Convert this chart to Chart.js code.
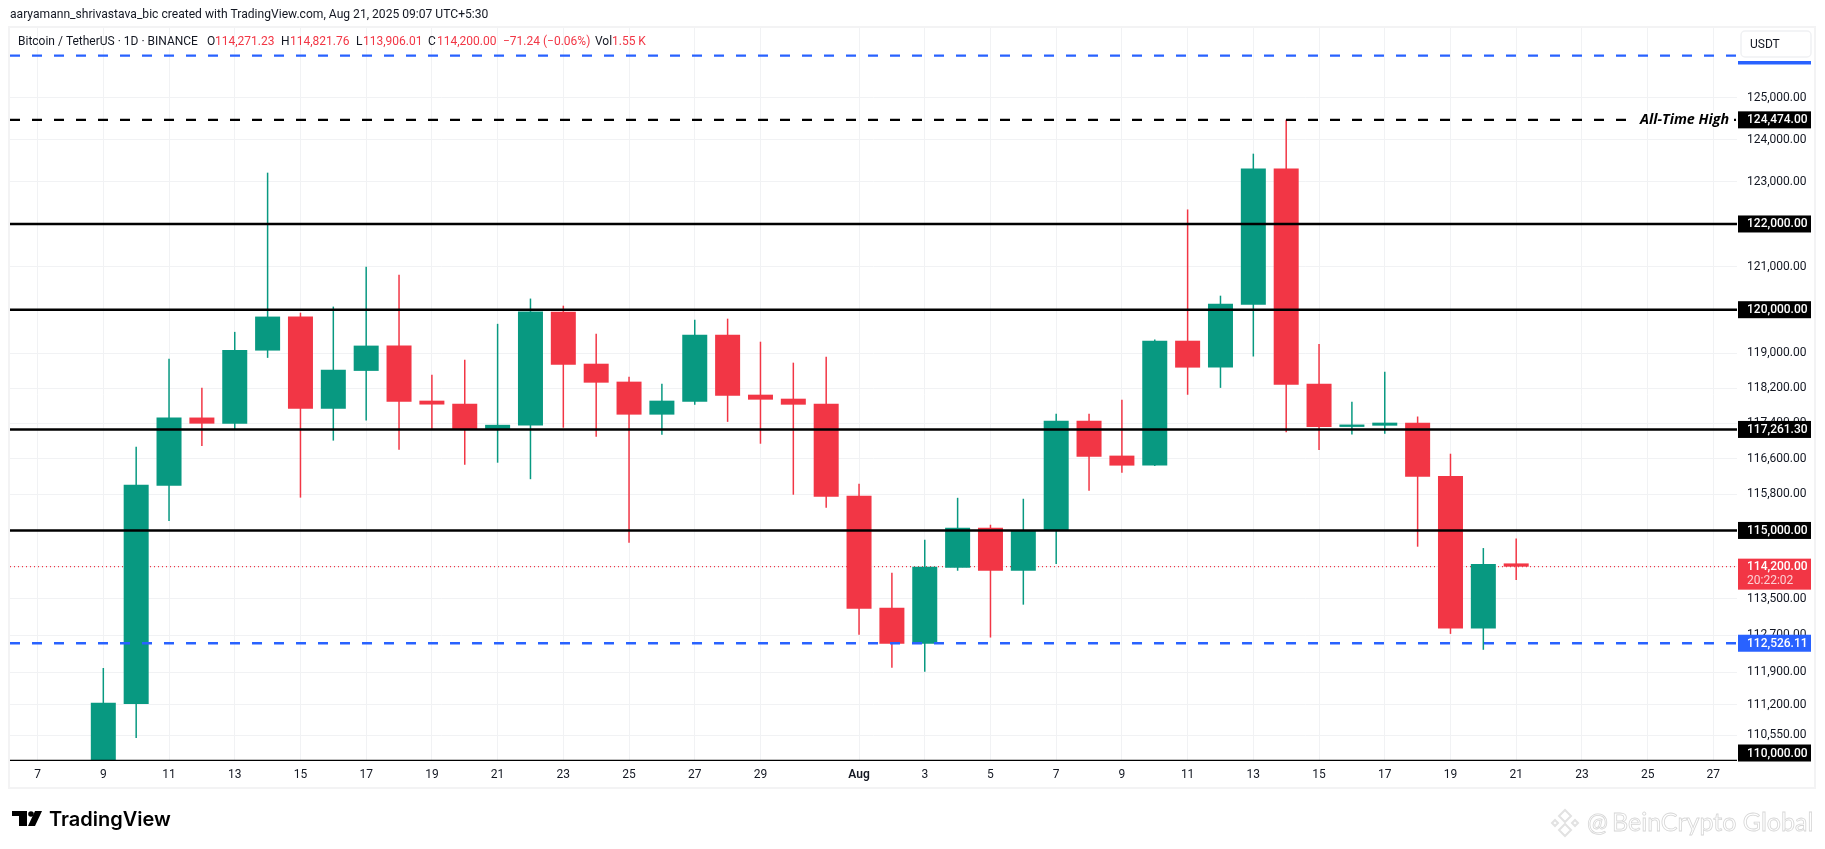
<!DOCTYPE html>
<html>
<head>
<meta charset="utf-8">
<title>Bitcoin / TetherUS</title>
<script src="https://cdn.jsdelivr.net/npm/chart.js@4"></script>
<style>
html, body { margin: 0; padding: 0; background: #fff; }
#wrap { width: 1825px; height: 849px; }
</style>
</head>
<body>
<div id="wrap"><canvas id="priceChart" width="1825" height="849"></canvas></div>
<script>
// day numbers count from Jul 7 = 0
const days = [2, 3, 4, 5, 6, 7, 8, 9, 10, 11, 12, 13, 14, 15, 16, 17, 18, 19, 20, 21, 22, 23, 24, 25, 26, 27, 28, 29, 30, 31, 32, 33, 34, 35, 36, 37, 38, 39, 40, 41, 42, 43, 44, 45];
const opens = [108900, 111215, 115996, 117531, 117393, 119058, 119841, 117730, 118593, 119172, 117914, 117844, 117260, 117350, 119954, 118757, 118347, 117597, 117891, 119423, 118050, 117959, 117846, 115772, 113300, 112516, 114175, 115060, 114110, 115011, 117459, 116671, 116447, 119285, 118668, 120114, 123310, 118301, 117319, 117347, 117415, 116216, 112844, 114271.23];
const highs = [111990, 116872, 118872, 118210, 119488, 123213, 119931, 120072, 120997, 120812, 118506, 118847, 119674, 120258, 120093, 119446, 118461, 118301, 119770, 119793, 119262, 118781, 118918, 116040, 114066, 114794, 115726, 115127, 115705, 117615, 117615, 117937, 119310, 122342, 120325, 123665, 124474, 119212, 117891, 118572, 117554, 116714, 114610, 114821.76];
const lows = [108300, 110489, 115212, 116890, 117254, 118891, 115730, 117009, 117461, 116804, 117270, 116467, 116512, 116142, 117301, 117097, 114728, 117143, 117823, 117433, 116939, 115795, 115506, 112711, 111993, 111908, 114110, 112650, 113366, 114261, 115882, 116285, 116440, 118048, 118205, 118922, 117197, 116800, 117145, 117163, 114640, 112729, 112384, 113906.01];
const closes = [111241, 116020, 117531, 117393, 119074, 119841, 117730, 118620, 119172, 117887, 117826, 117260, 117366, 119956, 118734, 118324, 117597, 117914, 119423, 118027, 117937, 117823, 115750, 113278, 112516, 114197, 115060, 114110, 114993, 117459, 116644, 116447, 119285, 118668, 120139, 123310, 118276, 117319, 117372, 117415, 116198, 112844, 114261, 114200];

const tickDays = [0, 2, 4, 6, 8, 10, 12, 14, 16, 18, 20, 22, 25, 27, 29, 31, 33, 35, 37, 39, 41, 43, 45, 47, 49, 51];
const tickDayLabels = ['7', '9', '11', '13', '15', '17', '19', '21', '23', '25', '27', '29', 'Aug', '3', '5', '7', '9', '11', '13', '15', '17', '19', '21', '23', '25', '27'];
const priceTicks = [125000, 124000, 123000, 122000, 121000, 120000, 119000, 118200, 117400, 116600, 115800, 115000, 114200, 113500, 112700, 111900, 111200, 110550];

const solidLevels = [122000, 120000, 117261.30, 115000, 110000];
const blackDashedLevels = [124474];
const blueDashedLevels = [126024, 112526.11];
const lastPrice = 114200;
const countdown = '20:22:02';

const titleText = 'aaryamann_shrivastava_bic created with TradingView.com, Aug 21, 2025 09:07 UTC+5:30';
const athLabel = 'All-Time High';

const GREEN = '#089981';
const RED = '#f23645';
const BLUE = '#2962ff';
const INK = '#131722';
const GRID = '#f1f2f4';
const FONT = 'Roboto, sans-serif';

const xMin = -0.84;
const xMax = 51.72;

function fmt(v) {
    return v.toLocaleString('en-US', {minimumFractionDigits: 2, maximumFractionDigits: 2});
}

function levelDataset(price, color, dash, width, order) {
    return {
        type: 'line',
        data: [{x: xMin, y: price}, {x: xMax, y: price}],
        borderColor: color,
        borderWidth: width,
        borderDash: dash,
        pointRadius: 0,
        order: order,
    };
}

const candleColors = opens.map((o, i) => closes[i] >= o ? GREEN : RED);

// frame, title, legend, price labels and footer
const overlay = {
    id: 'overlay',
    beforeDraw(chart) {
        const c = chart.ctx;
        c.save();
        c.fillStyle = '#fff';
        c.fillRect(0, 0, chart.width, chart.height);
        c.strokeStyle = '#f3f3f4';
        c.lineWidth = 2;
        c.strokeRect(9, 27, 1806, 761);
        c.restore();
    },
    afterDraw(chart) {
        const c = chart.ctx;
        const y = chart.scales.y;
        c.save();
        c.textBaseline = 'middle';

        c.font = '12.1px ' + FONT;
        c.fillStyle = INK;
        c.fillText(titleText, 10, 15);

        const legend = [
            ['Bitcoin / TetherUS · 1D · BINANCE', INK, 18],
            ['O', INK, 207], [fmt(opens[43]), RED, 215],
            ['H', INK, 281], [fmt(highs[43]), RED, 290],
            ['L', INK, 356], [fmt(lows[43]), RED, 363],
            ['C', INK, 428], [fmt(closes[43]), RED, 437],
            ['−71.24 (−0.06%)', RED, 503],
            ['Vol', INK, 595], ['1.55 K', RED, 612],
        ];
        c.font = '12px ' + FONT;
        legend.forEach(([text, color, x]) => {
            c.fillStyle = color;
            c.fillText(text, x, 42);
        });

        // All-Time High sits on the dashed line
        const athY = y.getPixelForValue(blackDashedLevels[0]);
        c.fillStyle = '#fff';
        c.fillRect(1634, athY - 8, 100, 16);
        c.font = 'italic bold 14.3px "Open Sans", sans-serif';
        c.fillStyle = '#000';
        c.fillText(athLabel, 1640, athY + 0.5);

        // blue level label is mostly hidden under the USDT box
        c.fillStyle = BLUE;
        c.fillRect(1738, 47, 73, 17.5);
        c.fillStyle = '#fff';
        c.fillRect(1738, 29, 73, 32);
        c.beginPath();
        c.roundRect(1741, 31, 70, 26, 4);
        c.strokeStyle = '#f0f1f3';
        c.lineWidth = 1.5;
        c.stroke();
        c.font = '12px ' + FONT;
        c.fillStyle = INK;
        c.fillText('USDT', 1750, 45);

        const boxLabel = (price, color, cy) => {
            c.fillStyle = color;
            c.fillRect(1738, cy - 8.5, 73, 17);
            c.font = '500 12px ' + FONT;
            c.fillStyle = '#fff';
            c.fillText(fmt(price), 1747, cy + 0.5);
        };
        blackDashedLevels.concat(solidLevels).forEach(p => {
            // the lowest label is pushed up so it stays inside the pane
            const cy = Math.min(y.getPixelForValue(p), 753);
            boxLabel(p, '#000', cy);
        });
        boxLabel(blueDashedLevels[1], BLUE, y.getPixelForValue(blueDashedLevels[1]));

        const lastY = y.getPixelForValue(lastPrice);
        c.fillStyle = RED;
        c.fillRect(1738, lastY - 8, 73, 31);
        c.font = '500 12px ' + FONT;
        c.fillStyle = '#fff';
        c.fillText(fmt(lastPrice), 1747, lastY + 0.5);
        c.font = '12px ' + FONT;
        c.fillStyle = '#fcd0d4';
        c.fillText(countdown, 1747, lastY + 14);

        // TradingView logo
        c.fillStyle = '#000';
        c.fillRect(12, 811, 15, 5);
        c.fillRect(19, 811, 8, 15);
        c.beginPath();
        c.arc(31, 814, 2.8, 0, Math.PI * 2);
        c.fill();
        c.beginPath();
        c.moveTo(35, 811);
        c.lineTo(42, 811);
        c.lineTo(35, 826);
        c.lineTo(28, 826);
        c.closePath();
        c.fill();
        c.font = '600 20px Inter, sans-serif';
        c.fillText('TradingView', 49, 820);

        // watermark
        c.strokeStyle = '#d6d6d6';
        c.lineWidth = 0.8;
        c.font = '25px Lato, sans-serif';
        c.strokeText('@', 1587, 823);
        c.strokeText('BeinCrypto Global', 1612, 823);
        c.strokeStyle = '#e2e2e2';
        c.lineWidth = 2;
        [[1565, 816, 6], [1555, 823, 3], [1575, 823, 3], [1565, 830, 6]].forEach(([cx, cy, r]) => {
            c.beginPath();
            c.moveTo(cx - r, cy);
            c.lineTo(cx, cy - r);
            c.lineTo(cx + r, cy);
            c.lineTo(cx, cy + r);
            c.closePath();
            c.stroke();
        });
        c.restore();
    },
};

new Chart(document.getElementById('priceChart').getContext('2d'), {
    data: {
        datasets: [
            levelDataset(lastPrice, RED, [1, 3], 1.2, 30),
            {
                type: 'bar',
                data: days.map((d, i) => ({x: d, y: [lows[i], highs[i]]})),
                backgroundColor: candleColors,
                barThickness: 1.5,
                grouped: false,
                inflateAmount: 0,
                order: 20,
            },
            {
                type: 'bar',
                data: days.map((d, i) => ({x: d, y: [opens[i], closes[i]]})),
                backgroundColor: candleColors,
                barThickness: 25,
                grouped: false,
                inflateAmount: 0,
                order: 10,
            },
            ...solidLevels.map(p => levelDataset(p, '#000', [], 2.4, 2)),
            ...blackDashedLevels.map(p => levelDataset(p, '#000', [10, 12], 2.4, 2)),
            ...blueDashedLevels.map(p => levelDataset(p, BLUE, [10, 12], 2.4, 1)),
        ],
    },
    options: {
        responsive: false,
        animation: false,
        events: [],
        layout: {padding: {left: 10, top: 28, right: 10, bottom: 61}},
        plugins: {legend: {display: false}, tooltip: {enabled: false}},
        scales: {
            x: {
                type: 'linear',
                offset: false,
                min: xMin,
                max: xMax,
                afterFit(axis) { axis.height = 27; },
                afterBuildTicks(axis) { axis.ticks = tickDays.map(d => ({value: d})); },
                border: {display: false},
                grid: {color: GRID, drawTicks: false, offset: false},
                ticks: {
                    autoSkip: false,
                    maxRotation: 0,
                    padding: 7,
                    color: INK,
                    font: ctx => ({family: FONT, size: 12, weight: tickDayLabels[ctx.index] === 'Aug' ? '600' : '400'}),
                    callback: (v, i) => tickDayLabels[i],
                },
            },
            y: {
                type: 'logarithmic',
                position: 'right',
                min: 110000,
                max: 126698,
                afterFit(axis) { axis.width = 78; },
                afterBuildTicks(axis) { axis.ticks = priceTicks.map(p => ({value: p})); },
                border: {display: false},
                grid: {color: GRID, drawTicks: false},
                ticks: {
                    autoSkip: false,
                    padding: 10,
                    color: INK,
                    font: {family: FONT, size: 12},
                    callback: v => fmt(v),
                },
            },
        },
    },
    plugins: [overlay],
});
</script>
</body>
</html>
